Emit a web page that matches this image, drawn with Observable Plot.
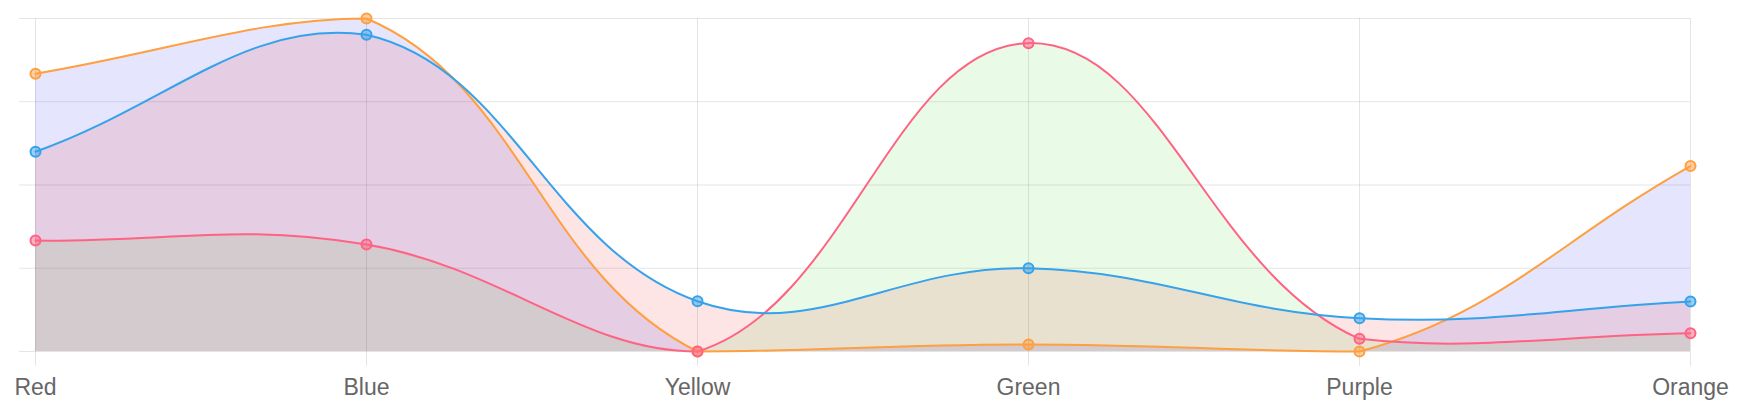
<!DOCTYPE html>
<html>
<head>
<meta charset="utf-8">
<script src="https://cdn.jsdelivr.net/npm/d3@7"></script>
<script src="https://cdn.jsdelivr.net/npm/@observablehq/plot@0.6"></script>
<style>
  html, body { margin: 0; padding: 0; background: #fff; }
  #chart svg { display: block; }
</style>
</head>
<body>
<div id="chart"></div>
<script>
// ---- data ----
const labels = ["Red", "Blue", "Yellow", "Green", "Purple", "Orange"];
const redValues = [33.3, 32.1, 0, 92.6, 3.8, 5.5];
const blueValues = [60, 95.1, 15.1, 25, 10, 15];
const orangeValues = [83.4, 100, 0, 2.1, 0, 55.7];
const yTicks = [0, 25, 50, 75, 100];

// ---- layout / style ----
const W = 1742, H = 412;
const M = {top: 18, right: 52, bottom: 61, left: 35};
const lineColors = {red: "rgb(255,99,132)", blue: "rgb(54,162,235)", orange: "rgb(255,159,64)"};
const fillColors = {red: "rgb(40,215,20)", blue: "rgb(240,0,0)", orange: "rgb(0,0,240)"};
const fillOpacity = 0.1;

// drawing order (bottom to top)
const series = [
  {key: "orange", values: orangeValues},
  {key: "red", values: redValues},
  {key: "blue", values: blueValues}
];
const tables = series.map(s => ({key: s.key, rows: labels.map((l, i) => ({label: l, value: s.values[i]}))}));

// Chart.js-style spline (tension 0.4, control points capped to chart area)
const T = 0.4;
const yMin = M.top, yMax = H - M.bottom;
const cap = v => Math.max(yMin, Math.min(yMax, v));
function ChartCurve(context) { this._context = context; }
ChartCurve.prototype = {
  areaStart() { this._line = 0; },
  areaEnd() { this._line = NaN; },
  lineStart() { this._pts = []; },
  point(x, y) { this._pts.push([+x, +y]); },
  lineEnd() {
    const p = this._pts, n = p.length, ctx = this._context;
    if (n) {
      if (this._line) ctx.lineTo(p[0][0], p[0][1]); else ctx.moveTo(p[0][0], p[0][1]);
      const cps = p.map((cur, i) => {
        const prev = p[i - 1] || cur, next = p[i + 1] || cur;
        const d01 = Math.hypot(cur[0] - prev[0], cur[1] - prev[1]);
        const d12 = Math.hypot(next[0] - cur[0], next[1] - cur[1]);
        let s01 = d01 / (d01 + d12), s12 = d12 / (d01 + d12);
        if (isNaN(s01)) s01 = 0;
        if (isNaN(s12)) s12 = 0;
        const fa = T * s01, fb = T * s12;
        return {
          px: cur[0] - fa * (next[0] - prev[0]), py: cap(cur[1] - fa * (next[1] - prev[1])),
          nx: cur[0] + fb * (next[0] - prev[0]), ny: cap(cur[1] + fb * (next[1] - prev[1]))
        };
      });
      for (let i = 1; i < n; i++) {
        ctx.bezierCurveTo(cps[i - 1].nx, cps[i - 1].ny, cps[i].px, cps[i].py, p[i][0], p[i][1]);
      }
    }
    if (this._line || (this._line !== 0 && n === 1)) ctx.closePath();
    this._line = 1 - this._line;
  }
};
const chartCurve = ctx => new ChartCurve(ctx);

const marks = [
  Plot.gridY({ticks: yTicks, stroke: "#000", strokeOpacity: 0.1}),
  Plot.gridX({stroke: "#000", strokeOpacity: 0.1}),
  Plot.axisY({ticks: yTicks, tickSize: 16, stroke: "#000", strokeOpacity: 0.1, tickFormat: () => ""}),
  Plot.axisX({tickSize: 15, stroke: "#000", strokeOpacity: 0.1, tickFormat: () => ""}),
  Plot.axisX({tickSize: 0, tickPadding: 27, fill: "#666", fontSize: 23, fontFamily: "'Liberation Sans', Arial, Helvetica, sans-serif"}),
  ...tables.map(t => Plot.areaY(t.rows, {x: "label", y: "value", fill: fillColors[t.key], fillOpacity, curve: chartCurve})),
  ...tables.map(t => Plot.lineY(t.rows, {x: "label", y: "value", stroke: lineColors[t.key], strokeWidth: 2, curve: chartCurve})),
  ...tables.map(t => Plot.dot(t.rows, {x: "label", y: "value", r: 5, fill: lineColors[t.key], fillOpacity: 0.5, stroke: lineColors[t.key], strokeWidth: 2}))
];

const chart = Plot.plot({
  width: W,
  height: H,
  marginTop: M.top,
  marginRight: M.right,
  marginBottom: M.bottom,
  marginLeft: M.left,
  style: {fontFamily: "'Liberation Sans', Arial, Helvetica, sans-serif", fontSize: "23px", background: "#fff"},
  x: {type: "point", domain: labels, padding: 0, label: null},
  y: {domain: [0, 100], label: null},
  marks
});
document.getElementById("chart").appendChild(chart);
</script>
</body>
</html>
